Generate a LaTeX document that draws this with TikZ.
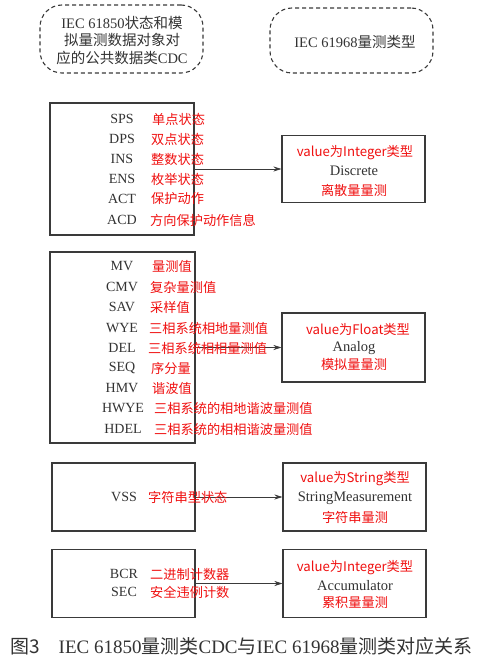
\documentclass[tikz,border=0pt]{standalone}
\usepackage{fontspec}
\setmainfont{Liberation Serif}
\newfontfamily\cjk{Noto Sans CJK SC}
\usetikzlibrary{arrows.meta}
\definecolor{txtgray}{HTML}{333333}
\definecolor{linegray}{HTML}{3A3A3A}
\definecolor{redtxt}{HTML}{F01010}
\tikzset{
  dashbox/.style={draw=linegray, line width=1.1pt, dash pattern=on 4pt off 3pt, rounded corners=22pt, inner sep=0pt},
  leftbox/.style={draw=linegray, line width=1.1pt, inner sep=0pt},
  rightbox/.style={draw=linegray, line width=1.1pt, inner sep=0pt, minimum width=143pt},
  codetxt/.style={text=txtgray, font=\fontsize{14}{16}\selectfont, inner sep=0pt},
  redlbl/.style={text=redtxt, font=\cjk\fontsize{13.2}{15}\selectfont, anchor=west, inner sep=0pt},
  nametxt/.style={text=txtgray, font=\fontsize{14.5}{16}\selectfont, inner sep=0pt},
  conn/.style={draw=linegray, line width=0.7pt, -{Stealth[length=8pt,width=5pt]}},
}
\begin{document}
\begin{tikzpicture}[x=1pt,y=-1pt]
\useasboundingbox (0,0) rectangle (478,661);
\fill[white] (0,0) rectangle (478,661);

% top dashed headers
\node[dashbox, minimum width=163pt, minimum height=68pt] (h1) at (121.5,39) {};
\node[text=txtgray, align=center, font=\fontsize{14.5}{17.5}\selectfont, inner sep=0pt] (h1t) at (122,40.5)
  {IEC 61850{\cjk 状态和模}\\{\cjk 拟量测数据对象对}\\{\cjk 应的公共数据类}CDC};
\node[dashbox, minimum width=163pt, minimum height=65pt] (h2) at (351.5,40.5) {};
\node[text=txtgray, font=\fontsize{14.5}{17.5}\selectfont, inner sep=0pt] (h2t) at (355,42)
  {IEC 61968{\cjk 量测类型}};

% group A
\node[leftbox, minimum width=144pt, minimum height=132pt] (A) at (122,169) {};
\node[codetxt] (sps) at (122,119) {SPS};
\node[codetxt] (dps) at (122,139) {DPS};
\node[codetxt] (ins) at (122,159) {INS};
\node[codetxt] (ens) at (122,179) {ENS};
\node[codetxt] (act) at (122,199) {ACT};
\node[codetxt] (acd) at (122,220) {ACD};
\node[redlbl] (spsr) at (152,119) {单点状态};
\node[redlbl] (dpsr) at (151,139) {双点状态};
\node[redlbl] (insr) at (151,159) {整数状态};
\node[redlbl] (ensr) at (151,179) {枚举状态};
\node[redlbl] (actr) at (151,199) {保护动作};
\node[redlbl] (acdr) at (150,220) {方向保护动作信息};

\node[rightbox, minimum height=67pt] (Dis) at (353.5,169) {};
\node[redlbl, anchor=center] (dis1) at (355,153) {value为Integer类型};
\node[nametxt] (dis2) at (354,171) {Discrete};
\node[redlbl, anchor=center] (dis3) at (354,190) {离散量量测};
\draw[conn] (A.east) -- (Dis.west);

% group B
\node[leftbox, minimum width=145pt, minimum height=191pt] (B) at (122.5,347.5) {};
\node[rightbox, minimum height=69pt] (Ana) at (353.5,347.5) {};
\draw[conn] (B.east) -- (Ana.west);
\node[codetxt] (mv) at (122,266) {MV};
\node[codetxt] (cmv) at (122,287) {CMV};
\node[codetxt] (sav) at (122,307) {SAV};
\node[codetxt] (wye) at (122,328) {WYE};
\node[codetxt] (del) at (122,348) {DEL};
\node[codetxt] (seq) at (122,368) {SEQ};
\node[codetxt] (hmv) at (122,388) {HMV};
\node[codetxt] (hwye) at (123,408) {HWYE};
\node[codetxt] (hdel) at (123,429) {HDEL};
\node[redlbl] (mvr) at (152,266) {量测值};
\node[redlbl] (cmvr) at (150,287) {复杂量测值};
\node[redlbl] (savr) at (150,307) {采样值};
\node[redlbl] (wyer) at (149,328) {三相系统相地量测值};
\node[redlbl] (delr) at (148,348) {三相系统相相量测值};
\node[redlbl] (seqr) at (151,368) {序分量};
\node[redlbl] (hmvr) at (152,388) {谐波值};
\node[redlbl] (hwyer) at (154,408) {三相系统的相地谐波量测值};
\node[redlbl] (hdelr) at (154,429) {三相系统的相相谐波量测值};
\node[redlbl, anchor=center] (ana1) at (358,329) {value为Float类型};
\node[nametxt] (ana2) at (354,348) {Analog};
\node[redlbl, anchor=center] (ana3) at (354,364) {模拟量量测};

% group C
\node[leftbox, minimum width=143pt, minimum height=68pt] (C) at (123.5,497) {};
\node[rightbox, minimum height=68pt] (Str) at (354.5,497) {};
\draw[conn] (C.east) -- (Str.west);
\node[codetxt] (vss) at (124,497) {VSS};
\node[redlbl] (vssr) at (148,497) {字符串型状态};
\node[redlbl, anchor=center] (str1) at (355,479) {value为String类型};
\node[nametxt] (str2) at (355,498) {StringMeasurement};
\node[redlbl, anchor=center] (str3) at (355,517) {字符串量测};

% group D
\node[leftbox, minimum width=143pt, minimum height=68pt] (D) at (123.5,583.5) {};
\node[rightbox, minimum height=68pt] (Acc) at (354.5,583.5) {};
\draw[conn] (D.east) -- (Acc.west);
\node[codetxt] (bcr) at (124,574) {BCR};
\node[codetxt] (sec) at (124,592) {SEC};
\node[redlbl] (bcrr) at (150,574) {二进制计数器};
\node[redlbl] (secr) at (150,592) {安全违例计数};
\node[redlbl, anchor=center] (acc1) at (355,568) {value为Integer类型};
\node[nametxt] (acc2) at (355,586) {Accumulator};
\node[redlbl, anchor=center] (acc3) at (355,603) {累积量量测};

% caption
\node[anchor=west, text=txtgray, font=\fontsize{19}{21}\selectfont, inner sep=0pt] (cap) at (10,646)
  {{\cjk 图3}\hspace{19pt}IEC 61850{\cjk 量测类}CDC{\cjk 与}IEC 61968{\cjk 量测类对应关系}};
\end{tikzpicture}
\end{document}
